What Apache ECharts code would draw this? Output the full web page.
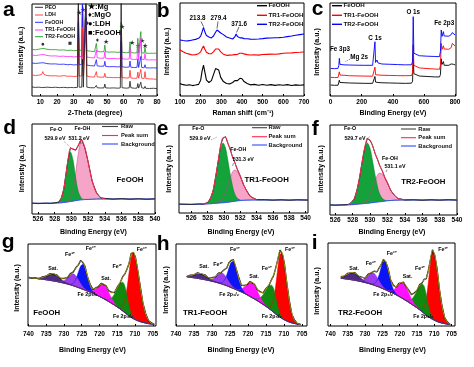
<!DOCTYPE html>
<html><head><meta charset="utf-8">
<script src="https://cdn.jsdelivr.net/npm/echarts@6.0.0/dist/echarts.min.js"></script>
<style>html,body{margin:0;padding:0;background:#fff;}#chart{width:474px;height:367px;}</style>
</head><body><div id="chart"></div>
<script>
// ---------------- (a) XRD ----------------
const xrdTheta = [5,7,9,10.8,11.5,12.2,14,16.5,19,21.5,24,26.5,28,30,32.3,32.8,33.3,34.8,35.3,35.8,36.9,37.4,37.9,40,42.5,43.1,43.6,44.1,46,48.2,48.7,49.2,51.5,54,56.5,58,58.5,59,61.5,63.3,63.8,64.3,66.5,68,68.5,69,69.8,70.3,70.8,72.3,72.8,73.3,75.5,78,80];
const xrdPEO   = [9.8,9.3,9.6,9.2,9.9,9.3,9.6,9.2,9.5,9.1,9.4,9.0,9.3,9.1,9.4,112,9.6,9.5,40,9.6,9.8,112,9.6,9.0,8.9,9.1,11.5,9.0,8.7,8.8,13,8.8,8.6,8.8,8.5,8.8,112,9.0,8.5,8.8,16,9.0,8.4,8.6,13.5,8.6,8.8,15,9,8.3,10.5,8.3,8.2,8.4,8.0];
const xrdLDH   = [22.8,22.3,22.6,23.5,26.5,23.4,22.2,21.9,22.0,21.5,22.2,21.4,21.6,21.2,21.5,60,21.6,21.8,75,22.0,21.5,70,21.6,20.8,20.6,21.0,26.5,20.9,20.4,20.6,24.6,20.4,20.2,19.9,20.1,19.8,45,20.0,19.5,19.8,28,19.6,19.2,19.4,26,19.3,19.6,29,19.4,19.0,26.5,18.9,18.6,18.4,18.1];
const xrdFeOOH = [35.9,35.4,35.7,36.1,37.8,36.0,35.2,34.8,34.9,34.4,34.6,34.0,34.3,33.8,34.0,80,34.0,34.2,100,34.0,33.8,85,33.5,33.0,32.6,33.0,39.5,32.8,32.3,32.5,37.7,32.2,31.8,32.0,31.6,31.8,60,31.7,31.2,31.5,38,31.3,30.9,31.2,40,31.0,31.5,43,31.0,30.7,34,30.6,30.5,30.6,30.4];
const xrdTR1   = [44.6,44.0,44.4,45.0,47.1,45.0,44.0,43.5,43.6,43.1,43.3,42.7,43.0,42.5,42.8,90,42.8,43.0,112,43.0,42.6,95,42.3,41.8,41.3,41.8,50,41.6,41.0,41.2,48,41.0,40.6,40.8,40.3,40.6,70,40.5,40.0,40.3,51.8,40.1,39.7,40.0,55.4,39.8,40.5,62.7,40.0,39.5,46,39.4,39.2,39.3,39.1];
const xrdTR2   = [50.7,50.2,50.8,51.5,53.6,51.6,50.8,50.3,50.4,49.9,50.1,49.5,49.8,49.3,49.6,95,49.6,49.8,105,49.8,49.4,100,49.2,48.7,48.3,48.7,57.2,48.6,48.0,48.2,55.4,48.0,47.7,47.9,47.4,47.7,80,47.6,47.0,47.3,59,47.1,46.8,47.1,62.7,46.9,47.6,70,47.0,46.6,53,46.5,46.4,46.5,46.4];
const xrdMarks = [[11.6,56.5,'●'],[27.9,57.3,'■'],[33,89.9,'★'],[35.7,93.5,'★'],[38.2,79,'♦'],[44.3,60.9,'♦'],[49.4,58,'★'],[59,75.3,'★'],[64.7,57.3,'★'],[68.8,53.6,'★'],[70.8,60.1,'★'],[72.5,53.6,'★']];
const xrdTicks = [10,20,30,40,50,60,70,80];

// ---------------- (b) Raman ----------------
const ramanShift = [100,115,130,145,160,175,190,200,207,213.8,220,228,240,252,262,272,279.4,287,297,310,325,340,355,365,371.6,378,390,400,410,425,440,460,480,500,520,540,560,580,600,620,640,660,680,700];
const ramanFeOOH = [13.3,12.2,11.5,12.0,11.2,11.8,12.5,17,27,33.3,26,17,14.5,16.5,23,29.5,31.5,28,20,15.5,13.5,13,14.5,16.5,18,16.5,19,18.5,15.5,13.5,12,12.5,11.5,12.3,11.6,12.2,11.4,12.1,11.5,12.2,11.3,12,11.6,12];
const ramanTR1   = [49.5,47.5,45.9,45,44.1,44.5,45.5,47.5,51,53.8,50.5,47,45.5,45.5,47.5,50.5,52,50.5,47.5,45,43.7,44,44.2,44.5,45,44.8,46,45.9,45.3,44.5,44.1,44.3,44,44.6,44.8,45,44.9,45.3,45.9,46.2,46.4,46.8,47,47.3];
const ramanTR2   = [60.2,59.6,59.1,59.5,60.3,60.9,62,64.5,69,73.8,69,65,63.5,62.4,64.5,68.5,71,70,67.7,66,63.5,62.3,61.3,63.5,66.7,64,62.5,62.5,61.7,61.5,61.2,61,61.3,61.7,62.2,62.3,62.6,62.8,63.1,63.8,64.5,65.3,66,66.7];
const ramanTicks = [100,200,300,400,500,600,700];
const ramanPeakLabels = ['213.8','279.4','371.6'];

// ---------------- (c) XPS survey ----------------
const surveyBE = [0,25,48,53,56,60,72,86,90,95,120,170,220,270,281,285,289,298,305,330,380,430,480,520,527,531,535,545,570,620,670,700,706,711,716,720,725,730,740,760,775,782,790,800];
const surveyFeOOH = [11.8,11.5,11.6,13,17,14.5,14,14.3,14.8,14.2,14,13.8,13.6,13.6,14,21,15,15.5,14.5,14.2,14,13.8,13.6,13.8,16,45,24,22.5,21.5,21,20.5,20.5,23,40,34,32,37,33,32.5,33,34.5,36.5,34,33.5];
const surveyTR1   = [20.1,19.8,20.0,22,26,22.5,21.8,22.3,23.2,22.2,21.8,21.6,21.4,21.3,22,31,23,24,22.6,22.3,22.1,21.9,21.8,22,25,55,33,31.2,30.2,29.5,29,28.7,33,56.6,50,49.5,54,50.5,49.8,50.3,52,56.6,54.5,53.8];
const surveyTR2   = [29.7,29.4,29.8,33,40.5,34,32.3,33.5,35.1,33.8,33.3,33.1,33.0,33.0,34,58.3,36,38.7,35.5,34.4,34.1,33.8,33.5,33.6,37,85.3,46,44,43.3,42.8,42.5,42.3,48,71,64,63.8,69.2,64.5,63.8,64.3,66,68.2,66.3,65.6];
const surveyTicks = [0,200,400,600,800];

// ---------------- (d-f) O 1s ----------------
const o1sTicks = [526,528,530,532,534,536,538,540];
const dBE   = [525.3,526,527,527.5,528,528.5,528.8,529.1,529.3,529.6,529.9,530.2,530.5,530.8,531.2,531.6,532,532.5,533,533.5,534,535,536,537,538,539,540];
const dBg   = [11.9,11.9,11.9,12.0,12.1,12.3,12.5,12.8,13.0,13.4,13.8,14.3,14.8,15.2,15.7,16.0,16.2,16.4,16.6,16.7,16.7,16.7,16.7,16.7,16.7,16.7,16.7];
const dFeO  = [0,0,0,0,0,1.1,4.9,15.3,26.8,45.9,55,45.9,26.8,10.9,1.9,0.2,0,0,0,0,0,0,0,0,0,0,0];
const dFeOH = [0,0,0,0,0,0,0,0,0.2,1,4,12.4,28.9,50,65,58.2,41.7,20.2,6.9,1.7,0.3,0,0,0,0,0,0];
const dRes  = [0.3,-0.4,0.2,-0.3,0.4,-0.2,0.5,-0.6,0.8,-0.7,0.9,-0.8,0.7,-0.9,0.8,-0.6,0.7,-0.5,0.4,-0.5,0.4,-0.3,0.5,-0.4,0.3,-0.5,0.2];
const eBE   = [524.5,526,527,527.5,527.8,528.1,528.4,528.7,529,529.3,529.6,529.9,530.2,530.5,530.8,531.1,531.3,531.6,532,532.4,532.8,533.2,533.6,534,535,536,537,538,539,540.3];
const eBg   = [9.9,9.9,10.0,10.1,10.2,10.4,10.6,10.8,11.0,11.2,11.4,11.6,11.9,12.2,12.6,13.0,13.3,13.7,14.1,14.4,14.6,14.7,14.8,14.8,14.8,14.8,14.8,14.8,14.8,14.8];
const eFeO  = [0,0,0,0.2,0.75,2.5,6.8,15.6,30,47,62,68,62,47,30,15.6,9.2,3.5,0.75,0.1,0,0,0,0,0,0,0,0,0,0];
const eFeOH = [0,0,0,0,0,0,0,0,0.3,1,2.7,6.2,12,20,28.4,34.3,35.5,33.8,27,18.1,10.2,4.8,1.9,0.6,0,0,0,0,0,0];
const eRes  = [0.3,-0.3,0.4,-0.2,0.3,-0.4,0.5,-0.5,0.7,-0.6,0.8,-0.7,0.9,-0.6,0.7,-0.8,0.6,-0.7,0.6,-0.5,0.5,-0.4,0.4,-0.3,0.4,-0.3,0.3,-0.4,0.3,-0.2];
const fBE   = [525.4,526,527,527.5,527.8,528.2,528.5,528.8,529.1,529.4,529.7,530,530.3,530.6,530.9,531.1,531.4,531.7,532,532.4,532.8,533.2,533.6,534,535,536,537,538,539,540];
const fBg   = [11.1,11.1,11.1,11.3,11.4,11.7,12.0,12.2,12.5,12.7,13.0,13.3,13.7,14.1,14.4,14.6,15.0,15.4,15.8,16.1,16.4,16.5,16.6,16.7,16.7,16.7,16.7,16.7,16.7,16.7];
const fFeO  = [0,0,0,0.5,1.7,6.7,15.3,29.5,46,61,67,61,46,29.5,15.3,9,3.5,1.1,0.3,0,0,0,0,0,0,0,0,0,0,0];
const fFeOH = [0,0,0,0,0,0,0,0.1,0.5,1.7,4.3,9.3,16.7,24.8,30.7,32,30.3,25.6,19.4,11.3,5.4,2.1,0.7,0.2,0,0,0,0,0,0];
const fRes  = [0.2,-0.3,0.3,-0.2,0.4,-0.4,0.5,-0.6,0.6,-0.7,0.8,-0.7,0.9,-0.8,0.7,-0.6,0.7,-0.5,0.6,-0.5,0.4,-0.4,0.5,-0.3,0.3,-0.4,0.3,-0.3,0.4,-0.2];

// ---------------- (g-i) Fe 2p ----------------
const fe2pTicks = [705,710,715,720,725,730,735,740];
const fe2pBE = [740,739,738,737,736,735,734,733,732,731,730,729,728.2,727.4,726.6,725.9,725.3,724.7,724.1,723.4,722.6,721.8,721,720.2,719.5,718.9,718.2,717.4,716.6,715.8,715,714.2,713.5,712.9,712.3,711.7,711.1,710.5,709.9,709.2,708.5,707.8,707,706.2,705.4,704.6];
const gBg   = [59,58.6,58.1,57.6,57,56.4,55.7,55,54.2,53.3,52.3,51.2,50.2,49.1,47.9,46.8,45.8,44.8,43.8,42.6,41.2,39.7,38.1,36.5,34.9,33.5,31.8,29.8,27.7,25.5,23.2,20.8,18.5,16.4,14.3,12.3,10.5,9,7.7,6.4,5.3,4.4,3.6,2.9,2.4,2];
const gSat1 = [0,0,0.2,0.7,2.2,4.7,7.5,8.8,7.5,4.7,2.2,0.7,0.2, 0,0,0,0,0,0,0,0,0,0, 0,0,0,0,0,0,0,0,0,0, 0,0,0,0,0,0,0,0,0,0, 0,0,0];
const gFe3a = [0,0,0,0,0,0,0,0, 0.1,0.7,2.9,7.7,12.2,14.5,13.1,9.4,5.9,3.2,1.5,0.4,0.1, 0,0,0,0,0,0,0,0,0,0, 0,0,0,0,0,0,0,0,0,0, 0,0,0,0,0];
const gFe2a = [0,0,0,0,0,0,0,0,0,0, 0,0, 0.65,2.9,9.6,19.3,27.1,30.5,27.1,17.7,7.4,2.1,0.4, 0,0,0,0,0,0,0,0,0,0, 0,0,0,0,0,0,0,0,0,0, 0,0,0];
const gSat2 = [0,0,0,0,0,0,0,0,0,0, 0,0,0,0,0,0,0,0,0, 0.3,1.2,3.4,7.4,12.7,16.3,17.5,15.9,11.3,6.2,2.7,0.9,0.3, 0,0,0,0,0,0,0,0,0,0, 0,0,0,0];
const gFe3b = [0,0,0,0,0,0,0,0,0,0, 0,0,0,0,0,0,0,0,0,0, 0,0,0,0,0, 0.3,0.9,2.6,6.5,13.3,22.4,30.9,34.8,32.9,23.1,12.3,4.7,1.4,0.3, 0,0,0,0,0,0,0];
const gFe2b = [0,0,0,0,0,0,0,0,0,0, 0,0,0,0,0,0,0,0,0,0, 0,0,0,0,0,0,0,0,0,0, 0.2,1.4,5.6,14.6,30.7,52.2,72,80,75.4,60.8,41.6,24.3,10.8,3.9,1.1,0.2];
const gRes  = [0.5,-0.6,0.4,-0.5,0.7,-0.4,0.6,-0.7,0.5,-0.6,0.8,-0.5,0.6,-0.8,0.7,-0.6,0.9,-0.7,0.8,-0.6,0.7,-0.8,0.6,-0.7,0.8,-0.6,0.7,-0.5,0.8,-0.7,0.6,-0.8,0.9,-0.7,0.8,-0.9,1.0,-0.8,0.9,-0.7,0.8,-0.6,0.5,-0.4,0.3,-0.2];
const hBg   = [null,null,null,60,59.4,58.8,58.1,57.3,56.5,55.6,54.6,53.5,52.5,51.4,50.2,49.1,48,46.9,45.8,44.5,43,41.4,39.7,37.9,36.2,34.7,32.9,30.8,28.6,26.3,23.9,21.4,19,16.8,14.6,12.5,10.7,9.1,7.6,6.1,4.8,3.8,3,2.3,1.8,null];
const hSat1 = [0,0,0, 0.7,2,4,6,6.7,5.4,3.1,1.3,0.45,0.1, 0,0,0,0,0,0,0,0,0,0, 0,0,0,0,0,0,0,0,0,0, 0,0,0,0,0,0,0,0,0,0, 0,0,0];
const hFe3a = [0,0,0,0,0,0,0,0,0, 0.55,2.4,6.6,10.8,13.4,12.5,9.3,6.1,3.4,1.6,0.55,0.1, 0,0,0,0,0,0,0,0,0,0, 0,0,0,0,0,0,0,0,0,0, 0,0,0,0,0];
const hFe2a = [0,0,0,0,0,0,0,0,0,0, 0,0, 0.2,1.3,5.2,13.1,22.4,30.5,33,26.8,14.6,5.2,1.3,0.2, 0,0,0,0,0,0,0,0,0,0, 0,0,0,0,0,0,0,0,0,0, 0,0];
const hSat2 = [0,0,0,0,0,0,0,0,0,0, 0,0,0,0,0,0,0,0,0, 0.25,1.2,3.6,7.8,13.3,17.2,18.5,16.7,11.9,6.5,2.8,1,0.25, 0,0,0,0,0,0,0,0,0,0, 0,0,0,0];
const hFe3b = [0,0,0,0,0,0,0,0,0,0, 0,0,0,0,0,0,0,0,0,0, 0,0,0,0,0, 0.25,0.8,2.3,5.8,11.8,19.8,27.3,30.8,29.1,20.5,10.9,4.2,1.2,0.3, 0,0,0,0,0,0,0];
const hFe2b = [0,0,0,0,0,0,0,0,0,0, 0,0,0,0,0,0,0,0,0,0, 0,0,0,0,0,0,0,0,0,0, 0.2,1.3,5.8,16.1,34.7,58.5,76.7,79,67.9,46.4,25.3,11,3.3,0.7,0.1, 0];
const hRes  = [0,0,0,-0.5,0.6,-0.4,0.7,-0.6,0.5,-0.7,0.6,-0.5,0.8,-0.6,0.7,-0.8,0.6,-0.9,0.7,-0.6,0.8,-0.7,0.6,-0.8,0.7,-0.5,0.6,-0.7,0.8,-0.6,0.7,-0.8,0.6,-0.9,0.8,-0.7,0.9,-1.0,0.8,-0.7,0.6,-0.8,0.5,-0.4,0.3,0];
const iBg   = [null,null,null,57.5,57,56.4,55.8,55.1,54.3,53.4,52.4,51.3,50.3,49.2,48,46.9,45.8,44.7,43.6,42.3,40.8,39.2,37.5,35.7,34,32.5,30.7,28.6,26.4,24.2,21.9,19.5,17.2,15.1,13,11.1,9.5,8.1,6.8,5.5,4.4,3.6,2.9,2.2,1.7,null];
const iSat1 = [0,0,0, 1.35,3.5,6.4,8.7,8.7,6.4,3.5,1.35,0.4,0.1, 0,0,0,0,0,0,0,0,0,0, 0,0,0,0,0,0,0,0,0,0, 0,0,0,0,0,0,0,0,0,0, 0,0,0];
const iFe3a = [0,0,0,0,0,0,0,0, 0.2,1.4,4.6,10.1,14,14.5,11.3,7.2,4.1,2.1,0.8,0.2, 0,0,0,0,0,0,0,0,0,0, 0,0,0,0,0,0,0,0,0,0, 0,0,0,0,0,0];
const iFe2a = [0,0,0,0,0,0,0,0,0,0, 0,0, 0.2,1.6,6.4,15.2,25,32.8,34,26.6,13.7,4.7,1.1,0.2, 0,0,0,0,0,0,0,0,0,0, 0,0,0,0,0,0,0,0,0,0, 0,0];
const iSat2 = [0,0,0,0,0,0,0,0,0,0, 0,0,0,0,0,0,0,0,0, 0.5,1.6,4.3,8.9,14.8,18.5,19.5,17.2,11.8,6.3,2.7,0.85,0.25, 0,0,0,0,0,0,0,0,0,0, 0,0,0,0];
const iFe3b = [0,0,0,0,0,0,0,0,0,0, 0,0,0,0,0,0,0,0,0,0, 0,0,0,0,0, 0.2,0.7,2.2,5.7,12,20.6,29.1,33.5,32.7,24.4,13.4,5.5,1.7,0.4, 0,0,0,0,0,0,0];
const iFe2b = [0,0,0,0,0,0,0,0,0,0, 0,0,0,0,0,0,0,0,0,0, 0,0,0,0,0,0,0,0,0,0, 0, 0.4,2.3,7.8,20.5,41.6,65.6,81,79.2,63.1,40.5,21,7.7,2.1,0.4, 0];
const iRes  = [0,0,0,0.6,-0.5,0.7,-0.4,0.6,-0.7,0.5,-0.6,0.8,-0.5,0.7,-0.6,0.8,-0.7,0.6,-0.8,0.7,-0.6,0.7,-0.8,0.6,-0.5,0.8,-0.7,0.6,-0.6,0.8,-0.7,0.6,-0.9,0.7,-0.8,0.9,-0.7,1.0,-0.8,0.7,-0.9,0.6,-0.5,0.4,-0.3,0];

// ---------------- build ----------------
const FONT = '"Liberation Sans", Arial, Helvetica, sans-serif';
const grids = [], xAxes = [], yAxes = [], series = [], G = [];

function panel(p) {
  const i = grids.length;
  grids.push({left: p.l, top: p.t, width: p.w, height: p.h, show: true, borderColor: '#000', borderWidth: 1,
    backgroundColor: 'rgba(0,0,0,0)', containLabel: false, outerBoundsMode: 'none'});
  xAxes.push({type: 'value', gridIndex: i, min: p.min, max: p.max, inverse: !!p.inv,
    axisLine: {show: false}, splitLine: {show: false},
    axisTick: {show: true, inside: true, length: 2, customValues: p.ticks, lineStyle: {color: '#000', width: 1}},
    axisLabel: {show: true, customValues: p.ticks, margin: p.lm, fontSize: 6.5, fontWeight: 'bold', color: '#000', fontFamily: FONT}});
  yAxes.push({type: 'value', gridIndex: i, min: 0, max: 100, show: false});
  return i;
}
function line(i, xs, ys, color, width, extra) {
  series.push(Object.assign({type: 'line', xAxisIndex: i, yAxisIndex: i,
    data: xs.map((x, k) => [x, ys[k] == null ? null : ys[k]]),
    symbol: 'none', showSymbol: false, lineStyle: {color: color, width: width}, itemStyle: {color: color},
    silent: true, animation: false, connectNulls: false}, extra || {}));
}
// stacked fill between background and background+component ([y, x] pairs, y is the stacked dimension)
let stackId = 0;
function fill(i, xs, bg, comp, color, edge) {
  const id = 'st' + (stackId++);
  const c = xs.map((x, k) => (bg[k] == null ? null : (comp[k] || 0)));
  const common = {type: 'line', xAxisIndex: i, yAxisIndex: i, stack: id, encode: {x: 1, y: 0},
    symbol: 'none', silent: true, animation: false, smooth: 0.3};
  series.push(Object.assign({}, common, {data: xs.map((x, k) => [bg[k] == null ? null : bg[k], x]),
    lineStyle: {width: 0, opacity: 0}}));
  series.push(Object.assign({}, common, {data: xs.map((x, k) => [c[k], x]),
    lineStyle: {width: 0.5, color: edge}, itemStyle: {color: color}, areaStyle: {color: color, opacity: 1}}));
}
function envelope(xs, bg, comps, restrict, res) {
  return xs.map((x, k) => {
    if (bg[k] == null) return null;
    const s = comps.reduce((a, c) => a + (c[k] || 0), 0);
    if (restrict && s < 0.05) return null;
    return bg[k] + s + (res ? (res[k] || 0) : 0);
  });
}
function txt(x, y, s, fs, align, fill, rot) {
  G.push({type: 'text', x: x, y: y, rotation: rot || 0, z: 100, silent: true,
    style: {text: s, fontSize: fs, fontWeight: 'bold', fontFamily: FONT, fill: fill || '#000', align: align || 'center', verticalAlign: 'middle'}});
}
function seg(x1, y1, x2, y2, color, w, dash) {
  G.push({type: 'line', z: 100, silent: true, shape: {x1: x1, y1: y1, x2: x2, y2: y2},
    style: {stroke: color || '#000', lineWidth: w || 0.6, lineDash: dash || null}});
}
function legend(items, x1, x2, tx, ys, fs, lw) {
  items.forEach((it, k) => { seg(x1, ys[k], x2, ys[k], it[1], lw); txt(tx, ys[k], it[0], fs, 'left', '#111'); });
}

// (a)
const cXRD = {peo: '#1a1a1a', ldh: '#ff2a2a', fe: '#1818ff', tr1: '#ff22ff', tr2: '#1c9a1c'};
const pa = panel({l: 32, t: 4, w: 125, h: 92, min: 5, max: 80, ticks: xrdTicks, lm: 3});
line(pa, xrdTheta, xrdTR2, cXRD.tr2, 0.8);
line(pa, xrdTheta, xrdTR1, cXRD.tr1, 0.8);
line(pa, xrdTheta, xrdFeOOH, cXRD.fe, 0.8);
line(pa, xrdTheta, xrdLDH, cXRD.ldh, 0.8);
line(pa, xrdTheta, xrdPEO, cXRD.peo, 0.8);
series.push({type: 'scatter', xAxisIndex: pa, yAxisIndex: pa, data: xrdMarks, symbolSize: 1,
  itemStyle: {color: 'rgba(0,0,0,0)'}, silent: true, animation: false,
  label: {show: true, position: 'inside', formatter: p => p.value[2], fontSize: 6.5, color: '#000', fontFamily: FONT}});

// (b)
const pb = panel({l: 180, t: 3, w: 124, h: 93, min: 100, max: 700, ticks: ramanTicks, lm: 3});
line(pb, ramanShift, ramanFeOOH, '#000', 1.1);
line(pb, ramanShift, ramanTR1, '#ff0000', 1.1);
line(pb, ramanShift, ramanTR2, '#0000ff', 1.1);

// (c)
const pc = panel({l: 330, t: 3, w: 126, h: 93, min: -4, max: 806, ticks: surveyTicks, lm: 3});
line(pc, surveyBE, surveyFeOOH, '#000', 0.9);
line(pc, surveyBE, surveyTR1, '#ff0000', 0.9);
line(pc, surveyBE, surveyTR2, '#0000ff', 0.9);

// (d-f)
const cO = {raw: '#222', sum: '#ff2a52', bg: '#2b4cff', feo: '#13a33a', feoE: '#0b7a28', feoh: '#f6a5c8', feohE: '#d4348c'};
function o1s(p, xs, bg, feo, feoh, res) {
  const i = panel(p);
  fill(i, xs, bg, feoh, cO.feoh, cO.feohE);
  fill(i, xs, bg, feo, cO.feo, cO.feoE);
  line(i, xs, bg, cO.bg, 0.9);
  line(i, xs, envelope(xs, bg, [feo, feoh], false, res), cO.raw, 0.9);
  line(i, xs, envelope(xs, bg, [feo, feoh], true, null), cO.sum, 1.0, {smooth: 0.3});
  return i;
}
o1s({l: 32, t: 124, w: 123, h: 90, min: 525.3, max: 540, ticks: o1sTicks, lm: 2}, dBE, dBg, dFeO, dFeOH, dRes);
o1s({l: 179, t: 125, w: 129, h: 88, min: 524.5, max: 540.3, ticks: o1sTicks, lm: 2}, eBE, eBg, eFeO, eFeOH, eRes);
o1s({l: 330, t: 125, w: 127, h: 90, min: 525.4, max: 540, ticks: o1sTicks, lm: 2}, fBE, fBg, fFeO, fFeOH, fRes);

// (g-i): components listed [Sat, Fe3+ 2p1/2, Fe2+ 2p1/2, Sat, Fe3+ 2p3/2, Fe2+ 2p3/2]; painted from the right-hand peak first
const cFe = ['#4a2c80', '#9b3cf0', '#0a14f5', '#ff10ff', '#0f8a0f', '#ff0000'];
function fe2p(p, bg, comps, res) {
  const i = panel(p);
  for (let k = comps.length - 1; k >= 0; k--) fill(i, fe2pBE, bg, comps[k], cFe[k], cFe[k]);
  line(i, fe2pBE, bg, '#333', 0.6, {smooth: 0.3});
  line(i, fe2pBE, envelope(fe2pBE, bg, comps, false, res), '#111', 1.3);
  line(i, fe2pBE, envelope(fe2pBE, bg, comps, false, null), '#c9b420', 0.8, {smooth: 0.3});
  return i;
}
fe2p({l: 28, t: 244, w: 128, h: 82, min: 704.1, max: 740.1, inv: true, ticks: fe2pTicks, lm: 5}, gBg, [gSat1, gFe3a, gFe2a, gSat2, gFe3b, gFe2b], gRes);
fe2p({l: 176, t: 244, w: 131, h: 82, min: 703.6, max: 740, inv: true, ticks: fe2pTicks, lm: 5}, hBg, [hSat1, hFe3a, hFe2a, hSat2, hFe3b, hFe2b], hRes);
fe2p({l: 328, t: 243, w: 127, h: 83, min: 704, max: 740.7, inv: true, ticks: fe2pTicks, lm: 5}, iBg, [iSat1, iFe3a, iFe2a, iSat2, iFe3b, iFe2b], iRes);

// ---------------- text decorations ----------------
[['a', 3, 10], ['b', 156.7, 11.2], ['c', 311.7, 9.6], ['d', 3.3, 128], ['e', 156.7, 129.6], ['f', 311.7, 129.6],
 ['g', 1.7, 242], ['h', 156.7, 244], ['i', 311.7, 243]].forEach(l => txt(l[1], l[2], l[0], 21, 'left'));
[[20.8, 50.5], [167.5, 51.5], [317.5, 52], [22.5, 168.5], [169.2, 169], [320.8, 169], [17.5, 288], [165.8, 290], [317.5, 291]]
  .forEach(q => txt(q[0], q[1], 'Intensity (a.u.)', 7, 'center', '#000', Math.PI / 2));
txt(95, 113, '2-Theta (degree)', 7);
txt(243, 113, 'Raman shift (cm\u207B\u00B9)', 7);
[[393, 113], [93.5, 231.7], [241, 232.3], [392, 232.3], [92.5, 350], [241, 350], [392.5, 350]]
  .forEach(q => txt(q[0], q[1], 'Binding Energy (eV)', 7));

// legends
legend([['PEO', cXRD.peo], ['LDH', cXRD.ldh], ['FeOOH', cXRD.fe], ['TR1-FeOOH', cXRD.tr1], ['TR2-FeOOH', cXRD.tr2]], 35, 43, 45, [7.3, 15, 22.3, 30, 36.7], 5.3, 0.9);
const l3 = [['FeOOH', '#000'], ['TR1-FeOOH', '#ff0000'], ['TR2-FeOOH', '#0000ff']];
legend(l3, 257, 267, 268.5, [5.7, 15.3, 24.3], 6.2, 1.4);
legend(l3, 332, 342, 343.5, [5.7, 15.3, 24.3], 6.2, 1.4);
const lO = [['Raw', '#444'], ['Peak sum', cO.sum], ['Background', cO.bg]];
legend(lO, 102, 118, 121, [126.5, 135.5, 144], 5.8, 1.1);
legend(lO, 252, 267, 268.5, [127.7, 136.7, 145], 5.8, 1.1);
legend(lO, 401, 416, 418.3, [129, 137.7, 146], 5.8, 1.1);

// (a) phase key
txt(88, 7, '\u2605:Mg', 7.5, 'left');
txt(88, 15.3, '\u2666:MgO', 7.5, 'left');
txt(88, 24, '\u25CF:LDH', 7.5, 'left');
txt(88, 32.7, '\u25A0:FeOOH', 7.5, 'left');

// (b) peak labels
txt(197.5, 18.3, ramanPeakLabels[0], 6.3); seg(201, 21.5, 203.5, 26.5);
txt(218.5, 18.3, ramanPeakLabels[1], 6.3); seg(218, 21.5, 217, 28.5);
txt(239.2, 24, ramanPeakLabels[2], 6.3); seg(239, 27, 236.5, 32.5);

// (c) survey labels
txt(340, 49.3, 'Fe 3p3', 6.3); txt(359.2, 57.3, 'Mg 2s', 6.3); seg(345.5, 61.5, 351.5, 58.5, '#000', 0.5, [1, 1]);
txt(375, 38.3, 'C 1s', 6.3); txt(413.3, 12.7, 'O 1s', 6.3); txt(444.2, 23.3, 'Fe 2p3', 6.3);

// (d-f) labels
txt(56, 130, 'Fe-O', 5.3); txt(55, 139, '529.9 eV', 5.3); txt(82.5, 129, 'Fe-OH', 5.3); txt(79, 139, '531.2 eV', 5.3);
seg(64, 141.5, 70, 147, '#333', 0.5, [1, 1]); seg(80, 141.5, 81, 144, '#333', 0.5);
txt(130, 180, 'FeOOH', 7.8);
txt(198.3, 128.3, 'Fe-O', 5.3); txt(200, 139, '529.9 eV', 5.3); txt(238.3, 150, 'Fe-OH', 5.3); txt(243.3, 160, '531.3 eV', 5.3);
seg(211, 140, 217, 137, '#333', 0.5, [1, 1]); seg(233.5, 163, 232.5, 166, '#333', 0.5);
txt(266.7, 180, 'TR1-FeOOH', 7.8);
txt(350, 128.3, 'Fe-O', 5.3); txt(355, 138.3, '529.7 eV', 5.3); txt(390, 158.3, 'Fe-OH', 5.3); txt(395, 166.7, '531.1 eV', 5.3);
seg(366, 139, 370, 136.5, '#333', 0.5, [1, 1]); seg(387, 169.5, 386, 172, '#333', 0.5);
txt(423.3, 181.7, 'TR2-FeOOH', 7.8);

// (g-i) labels
const SUP3 = 'Fe\u00B3\u207A', SUP2 = 'Fe\u00B2\u207A', P12 = 'Fe 2p\u2081/\u2082', P32 = 'Fe 2p\u2083/\u2082';
function feLabels(L, name) {
  txt(L[0][0], L[0][1], 'Sat.', 5.3); txt(L[1][0], L[1][1], SUP3, 5.3); txt(L[2][0], L[2][1], SUP2, 5.3);
  txt(L[3][0], L[3][1], 'Sat.', 5.3); txt(L[4][0], L[4][1], SUP3, 5.3); txt(L[5][0], L[5][1], SUP2, 5.3);
  txt(L[6][0], L[6][1], P12, 5.3); txt(L[7][0], L[7][1], P32, 5.3); txt(L[8][0], L[8][1], name, 7.8);
}
feLabels([[53, 268.3], [70, 255], [90.8, 248.3], [106, 278.3], [117.5, 267], [141.7, 250], [87.5, 295], [123, 316.7], [46.7, 313.3]], 'FeOOH');
feLabels([[204, 266.7], [218.3, 265], [235, 250], [254.2, 276.7], [266.7, 268.3], [290, 250], [229.2, 295], [271.7, 316.7], [205, 313.3]], 'TR1-FeOOH');
feLabels([[354.2, 268.3], [370.8, 263.3], [391.7, 253.3], [407.5, 276.7], [420, 268.3], [443.3, 250], [383.3, 295], [423.3, 316.7], [360, 313.3]], 'TR2-FeOOH');

const chart = echarts.init(document.getElementById('chart'), null, {renderer: 'canvas'});
chart.setOption({
  animation: false,
  backgroundColor: '#fff',
  textStyle: {fontFamily: FONT},
  grid: grids, xAxis: xAxes, yAxis: yAxes, series: series,
  graphic: {elements: G}
});
</script></body></html>
